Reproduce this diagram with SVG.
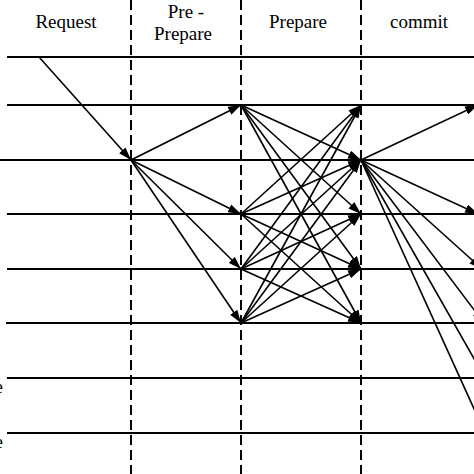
<svg xmlns="http://www.w3.org/2000/svg" width="474" height="474" viewBox="0 0 474 474">
<style>
.lbl{font-family:"Liberation Serif","Times New Roman",serif;font-size:19px;fill:#000;text-anchor:middle}
.row{stroke:#000;stroke-width:2;fill:none}
.phase{stroke:#000;stroke-width:2;stroke-dasharray:10 5;fill:none}
.msg{stroke:#000;stroke-width:1.6;fill:none;marker-end:url(#ah)}
</style>
<defs>
<marker id="ah" markerUnits="userSpaceOnUse" markerWidth="13" markerHeight="9" refX="12" refY="4" orient="auto" viewBox="0 0 12 8">
<path d="M0,0 L12,4 L0,8 z" fill="#000"/>
</marker>
</defs>
<rect width="474" height="474" fill="#fff"/>
<g id="labels">
<text class="lbl" x="66" y="28">Request</text>
<text class="lbl" x="186" y="18">Pre -</text>
<text class="lbl" x="183" y="40">Prepare</text>
<text class="lbl" x="298" y="28">Prepare</text>
<text class="lbl" x="419" y="28">commit</text>
<text class="lbl" x="3" y="393" style="text-anchor:end">e</text>
<text class="lbl" x="3" y="448" style="text-anchor:end">e</text>
</g>
<g id="timelines">
<line id="r0" class="row" x1="7" y1="57" x2="474" y2="57"/>
<line id="r1" class="row" x1="7" y1="105" x2="474" y2="105"/>
<line id="r2" class="row" x1="0" y1="160" x2="474" y2="160"/>
<line id="r3" class="row" x1="7" y1="214" x2="474" y2="214"/>
<line id="r4" class="row" x1="7" y1="269" x2="474" y2="269"/>
<line id="r5" class="row" x1="6" y1="323" x2="474" y2="323"/>
<line id="r6" class="row" x1="7" y1="378" x2="474" y2="378"/>
<line id="r7" class="row" x1="7" y1="433" x2="474" y2="433"/>
</g>
<g id="phases">
<line class="phase" x1="131" y1="0" x2="131" y2="474"/>
<line class="phase" x1="241" y1="0" x2="241" y2="474"/>
<line class="phase" x1="361" y1="0" x2="361" y2="474"/>
</g>
<g id="connectors">
<line class="msg" x1="39" y1="57" x2="131" y2="160"/>
<line class="msg" x1="131" y1="160" x2="241" y2="105"/>
<line class="msg" x1="131" y1="160" x2="241" y2="214"/>
<line class="msg" x1="131" y1="160" x2="241" y2="269"/>
<line class="msg" x1="131" y1="160" x2="241" y2="323"/>

<line class="msg" x1="241" y1="105" x2="361" y2="160"/>
<line class="msg" x1="241" y1="105" x2="361" y2="214"/>
<line class="msg" x1="241" y1="105" x2="361" y2="269"/>
<line class="msg" x1="241" y1="105" x2="361" y2="323"/>

<line class="msg" x1="241" y1="214" x2="361" y2="105"/>
<line class="msg" x1="241" y1="214" x2="361" y2="160"/>
<line class="msg" x1="241" y1="214" x2="361" y2="269"/>
<line class="msg" x1="241" y1="214" x2="361" y2="323"/>

<line class="msg" x1="241" y1="269" x2="361" y2="105"/>
<line class="msg" x1="241" y1="269" x2="361" y2="160"/>
<line class="msg" x1="241" y1="269" x2="361" y2="214"/>
<line class="msg" x1="241" y1="269" x2="361" y2="323"/>

<line class="msg" x1="241" y1="323" x2="361" y2="105"/>
<line class="msg" x1="241" y1="323" x2="361" y2="160"/>
<line class="msg" x1="241" y1="323" x2="361" y2="214"/>
<line class="msg" x1="241" y1="323" x2="361" y2="269"/>

<line class="msg" x1="361" y1="160" x2="478" y2="105"/>
<line class="msg" x1="361" y1="160" x2="478" y2="214"/>
<line class="msg" x1="361" y1="160" x2="482" y2="269"/>
<line class="msg" x1="361" y1="160" x2="484" y2="323"/>
<line class="msg" x1="361" y1="160" x2="485" y2="378"/>
<line class="msg" x1="361" y1="160" x2="485" y2="433"/>
</g>
</svg>
